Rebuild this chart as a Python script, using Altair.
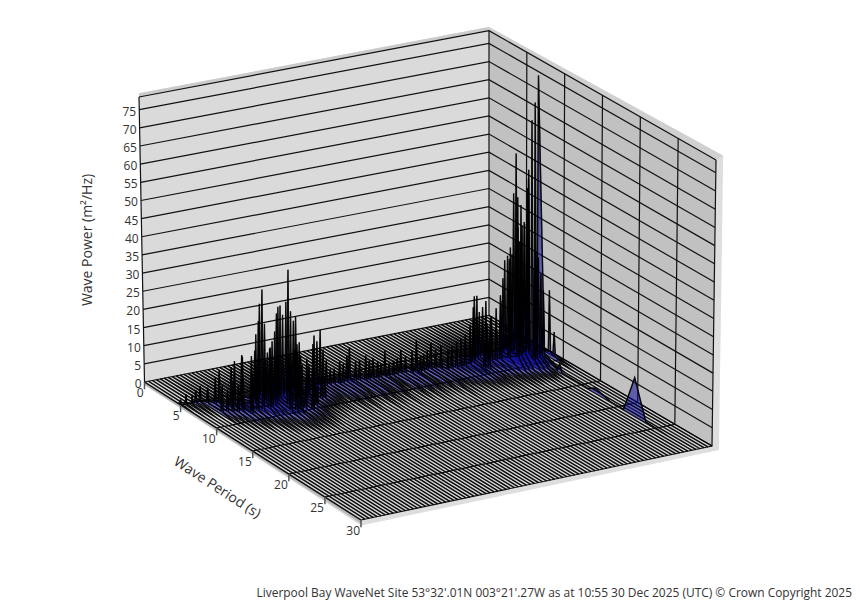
import altair as alt
import numpy as np
import pandas as pd

alt.data_transformers.disable_max_rows()

Z_TOP = 78.5
P_TOP = 30.0
Z_TICKS = list(range(0, 80, 5))
P_TICKS = [0, 5, 10, 15, 20, 25, 30]
FOOTER = "Liverpool Bay WaveNet Site 53°32'.01N 003°21'.27W as at 10:55 30 Dec 2025 (UTC) © Crown Copyright 2025"

# view of the box: (time, period, power) corners as seen by the camera
VIEW = {
    (0, 0, 0): (144.5, 382), (0, 0, 1): (139, 97),
    (1, 0, 0): (489, 315.5), (1, 0, 1): (489, 30.7),
    (0, 1, 0): (361, 520), (0, 1, 1): (358, 232),
    (1, 1, 0): (712, 446), (1, 1, 1): (716, 160),
}
N_SERIES = 88   # stripes on the floor

# spectrum per floor stripe: (period s, power m2/Hz); anything unlisted is flat
SPECTRA = {
    0: [(4.5,0),(4.9,.4),(5,1.5),(5.1,.4),(6,.2),(7,0)],
    1: [(4.6,0),(5.1,.5),(5.2,3),(5.3,.5),(6.5,.2),(8,0)],
    2: [(4.8,0),(5.4,.5),(5.5,3),(5.6,.5),(7,.2),(8.5,0)],
    3: [(4.8,.1),(5.3,.6),(5.45,4),(5.6,.6),(7,.3),(8.5,0)],
    4: [(4.9,.1),(5.35,.7),(5.5,5),(5.65,.7),(7,.3),(9,0)],
    5: [(5,.2),(5.85,.8),(6,5),(6.15,.8),(7.85,.9),(8,8),(8.15,.8),(9.5,.3),(11,0)],
    6: [(5.2,.3),(6.35,1),(6.5,8),(6.65,1),(8.05,1),(8.2,7),(8.35,1),(9.8,.3),(11.5,0)],
    7: [(5.3,.3),(6.35,1.2),(6.5,10),(6.65,1.2),(8.25,1),(8.4,9),(8.55,1),(10,.3),(12,0)],
    8: [(5.5,.3),(7.45,1.3),(7.6,12),(7.75,1.3),(8.45,1),(8.6,8),(8.75,1),(10,.4),(12,0)],
    9: [(5.8,.3),(7.35,1.4),(7.5,13.3),(7.65,1.4),(8.55,1.2),(8.7,10),(8.85,1.2),(10.5,.4),(12.5,0)],
    10: [(5.8,.3),(7.9,1.5),(8.05,15),(8.2,1.5),(9.2,1.2),(9.35,10),(9.5,1.2),(11,.4),(13,0)],
    11: [(5.8,.4),(7.25,1.5),(7.4,14.4),(7.55,1.5),(8.75,1.3),(8.9,11),(9.05,1.3),(10.5,.5),(12.5,0)],
    12: [(6,.4),(8.05,1.6),(8.2,14.9),(8.35,1.6),(8.95,1.4),(9.1,12),(9.25,1.4),(10.7,.5),(13,0)],
    13: [(6,.4),(7.95,1.7),(8.1,16),(8.25,1.7),(9.15,1.5),(9.3,13),(9.45,1.5),(11,.5),(13.5,0)],
    14: [(6,.5),(7.55,2),(7.7,19.8),(7.85,2),(9.45,2),(9.6,18.3),(9.75,2),(11,.6),(14,0)],
    15: [(6,.5),(7.35,2.2),(7.5,23),(7.65,2.2),(8.35,1.8),(8.5,14),(8.65,1.8),(9.25,2),(9.4,19.8),(9.55,2),(11,.6),(14,0)],
    16: [(5.8,.5),(6.95,2.4),(7.1,27),(7.25,2.4),(8.05,2),(8.2,15),(8.35,2),(9.05,2.2),(9.2,22),(9.35,2.2),(11.2,.6),(14,0)],
    17: [(5.6,.5),(6.75,2.6),(6.9,30.5),(7.05,2.6),(7.9,2),(8.05,16),(8.2,2),(8.75,2.4),(8.9,26.4),(9.05,2.2),(11.2,.6),(14,0)],
    18: [(5.6,.5),(6.55,2.2),(6.7,20.6),(6.85,2.2),(8.4,2.4),(8.55,27.6),(8.7,2.2),(10.25,1.6),(10.4,14),(10.55,1.4),(12,.6),(14.5,0)],
    19: [(5.5,.5),(8.15,2.4),(8.3,27.4),(8.45,2.2),(9.3,1.7),(9.45,15),(9.6,1.6),(10.45,1.6),(10.6,15),(10.75,1.4),(12,.6),(14.5,0)],
    20: [(5.5,.5),(7.95,2.3),(8.1,24.4),(8.25,2.2),(10.65,1.5),(10.8,14),(10.95,1.3),(12,.6),(14.5,0)],
    21: [(5.5,.5),(7.85,2.4),(8,27.6),(8.15,2.2),(9.1,1.7),(9.25,16),(9.4,1.6),(9.85,1.2),(10,8),(10.15,1),(12,.5),(14.5,0)],
    22: [(5.4,.5),(7.6,3),(7.75,35.9),(7.9,2.8),(8.8,1.7),(8.95,15),(9.1,1.5),(10.05,1.2),(10.2,8),(10.35,1),(12,.5),(14.5,0)],
    23: [(5.2,.5),(7.4,2),(7.55,24),(7.7,2),(8.6,1.7),(8.75,17),(8.9,1.5),(10.5,1),(10.65,9),(10.8,.9),(12.5,.4),(14.5,0)],
    24: [(5.2,.5),(7.25,2.2),(7.4,21),(7.55,2),(9.95,1),(10.1,7),(10.25,.9),(12,.4),(14,0)],
    25: [(5,.5),(7,2.2),(7.15,21.6),(7.3,2),(8.55,1.5),(8.7,12),(8.85,1.3),(9.85,1),(10,6),(10.15,.9),(12,.4),(14,0)],
    26: [(5,.4),(6.65,1.6),(6.8,13.4),(6.95,1.4),(8.3,1.3),(8.45,10),(8.6,1.2),(9.45,.9),(9.6,5),(9.75,.8),(11.5,.3),(13.5,0)],
    27: [(5,.4),(6.6,1.3),(6.75,10),(6.9,1.2),(8.4,1.1),(8.55,8),(8.7,1),(11,.3),(13,0)],
    28: [(5,.4),(7.75,1.6),(7.9,14.4),(8.05,1.4),(8.95,1),(9.1,7),(9.25,.8),(11,.3),(13,0)],
    29: [(5,.4),(7.35,1.7),(7.5,16),(7.65,1.4),(8.85,.9),(9,6),(9.15,.7),(11,.3),(12.5,0)],
    30: [(5,.4),(7.2,1.6),(7.35,14),(7.5,1.4),(8.7,.9),(10.5,.3),(12.5,0)],
    31: [(5,.4),(7.1,1.7),(7.25,16.8),(7.4,1.4),(8.6,.8),(10.5,.3),(12.5,0)],
    32: [(5,.3),(6.95,1.3),(7.1,11),(7.25,1.1),(8.5,.7),(10.5,.2),(12,0)],
    33: [(5,.3),(6.85,1.1),(7,7.7),(7.15,.9),(8.5,.6),(10,.2),(11.5,0)],
    34: [(5.2,.3),(6.85,1),(7,5),(7.15,.8),(8.5,.7),(11,.2),(13,0)],
    35: [(5.2,.3),(6.85,1),(7,5),(7.15,.8),(8.8,.9),(11,.3),(13,0)],
    36: [(5.2,.2),(7.05,1),(7.2,7),(7.35,1),(8.7,.8),(10.7,.2),(12.2,0)],
    37: [(5.2,.2),(7,.9),(7.15,6),(7.3,.9),(8.7,1),(11,.4),(13,0)],
    38: [(5.2,.2),(6.95,1.1),(7.1,8.2),(7.25,1.1),(8.6,.8),(10.6,.2),(12.1,0)],
    39: [(5,.2),(6.75,1.3),(6.9,9.9),(7.05,1.3),(8.4,1),(10.4,.3),(11.9,0)],
    40: [(5.2,.2),(7.05,.9),(7.2,6.1),(7.35,.9),(8.7,.6),(10.7,.2),(12.2,0)],
    41: [(5.2,.2),(7.05,.9),(7.2,6.1),(7.35,.9),(9,1),(11.5,.3),(13.5,0)],
    42: [(5.4,.2),(7.35,1),(7.5,7.7),(7.65,1),(9,.8),(11,.2),(12.5,0)],
    43: [(5.4,.2),(7.3,.9),(7.45,6),(7.6,.9),(9.2,1),(11.2,.3),(13,0)],
    44: [(5.4,.2),(7.25,.9),(7.4,6.5),(7.55,.9),(8.9,.7),(10.9,.2),(12.4,0)],
    45: [(5.4,.2),(7.35,.8),(7.5,5.5),(7.65,.8),(9,.6),(11,.2),(12.5,0)],
    46: [(5.4,.2),(7.25,.7),(7.4,4.6),(7.55,.7),(9.2,.9),(11.5,.3),(13.5,0)],
    47: [(5.4,.2),(7.25,1),(7.4,7.7),(7.55,1),(8.9,.8),(10.9,.2),(12.4,0)],
    48: [(5.4,.2),(7.25,.6),(7.4,4),(7.55,.6),(8.9,.5),(10.9,.1),(12.4,0)],
    49: [(5.5,.2),(7.35,.7),(7.5,4.8),(7.65,.7),(9,.5),(11,.2),(12.5,0)],
    50: [(5.5,.2),(7.3,.8),(7.45,5),(7.6,.8),(9.1,1),(11.3,.3),(13,0)],
    51: [(5.5,.2),(7.25,1),(7.4,7.2),(7.55,1),(8.9,.8),(10.9,.2),(12.4,0)],
    52: [(5.5,.2),(7.35,.8),(7.5,5.4),(7.65,.8),(9.3,1),(11.5,.3),(13.5,0)],
    53: [(5.6,.2),(7.7,1),(7.85,7),(8,1),(9.3,.8),(11.3,.2),(12.8,0)],
    54: [(5.6,.2),(7.75,1.3),(7.9,9.9),(8.05,1.3),(9.4,1),(11.4,.3),(12.9,0)],
    55: [(5.6,.2),(7.75,.8),(7.9,5.2),(8.05,.8),(9.4,.6),(11.4,.2),(12.9,0)],
    56: [(5.6,.2),(7.65,.8),(7.8,5.6),(7.95,.8),(9.3,.6),(11.3,.2),(12.8,0)],
    57: [(5.6,.2),(7.6,.9),(7.75,6),(7.9,.9),(9.4,1),(11.5,.3),(13,0)],
    58: [(5.6,.2),(7.55,1.1),(7.7,8),(7.85,1.1),(9.2,.8),(11.2,.2),(12.7,0)],
    59: [(5.6,.2),(7.65,.9),(7.8,6),(7.95,.9),(9.6,1),(12,.3),(14,0)],
    60: [(5.8,.2),(7.85,1),(8,7.3),(8.15,1),(9.5,.8),(11.5,.2),(13,0)],
    61: [(6,.2),(8.25,.9),(8.4,6.2),(8.55,.9),(9.9,.7),(11.9,.2),(13.4,0)],
    62: [(6,.2),(8.25,1),(8.4,7.1),(8.55,1),(9.9,.8),(11.9,.2),(13.4,0)],
    63: [(6,.3),(8.35,1.2),(8.5,8.3),(8.65,1.2),(10,.9),(12,.2),(13.5,0)],
    64: [(6,.3),(8.4,1.2),(8.55,9),(8.7,1.2),(10,1),(12,.3),(13.5,0)],
    65: [(6,.3),(8.45,1.3),(8.6,9.9),(8.75,1.3),(10.1,1),(12.1,.3),(13.6,0)],
    66: [(6.2,.4),(8.55,1.6),(8.7,12.5),(8.85,1.6),(10.2,1.2),(12.2,.3),(13.7,0)],
    67: [(6.2,.4),(8.45,2),(8.6,16.9),(8.75,2),(10.1,1.4),(12.1,.4),(13.6,0)],
    68: [(6.2,.5),(8.05,2.2),(8.2,19.2),(8.35,2),(9.45,1.2),(9.6,8),(9.75,1.2),(12,.4),(14,0)],
    69: [(6.2,.5),(7.85,2.2),(8,18.9),(8.15,2),(9.55,1.2),(9.7,9),(9.85,1.2),(12,.4),(14,0)],
    70: [(6,.5),(7.65,1.8),(7.8,14),(7.95,1.8),(8.7,1.4),(8.85,12),(9,1.4),(11.5,.4),(14,0)],
    71: [(6,.5),(7.55,1.8),(7.7,15),(7.85,1.7),(8.75,1.7),(8.9,14),(9.05,1.6),(11.5,.4),(14,0)],
    72: [(6,.5),(7.45,2),(7.6,16.3),(7.75,1.8),(8.85,1.8),(9,16),(9.15,1.8),(11.5,.5),(14,0)],
    73: [(6,.5),(7.55,1.6),(7.7,11.7),(7.85,1.6),(8.95,2),(9.1,18),(9.25,2),(11.5,.5),(14.5,0)],
    74: [(6.5,.5),(8.35,2),(8.5,18.6),(8.65,2),(9.55,2.8),(9.7,30),(9.85,2.8),(11.5,.6),(14,0)],
    75: [(6.5,.5),(8.15,2.5),(8.3,22.8),(8.45,2.5),(9,2.5),(9.15,26),(9.3,2.5),(10.15,3.6),(10.3,47.5),(10.45,3.6),(11.5,.7),(14,0)],
    76: [(6.5,.5),(7.85,3),(8,27.2),(8.15,3),(8.85,3),(9,30),(9.15,3),(10.05,3.6),(10.2,45),(10.35,3.6),(11.5,.7),(14,0)],
    77: [(6.5,.5),(7.7,3),(7.85,28),(8,3),(8.8,3.2),(8.95,31),(9.1,3.2),(9.95,4),(10.1,40),(10.25,4),(11.5,.7),(14,0)],
    78: [(6.5,.5),(7.55,3),(7.7,29.9),(7.85,3),(8.75,3.2),(8.9,33),(9.05,3.2),(9.85,4),(10,49),(10.15,4),(10.75,3),(10.9,28),(11.05,2.5),(12,.6),(14,0)],
    79: [(6.2,.5),(7.45,4),(7.6,44.5),(7.75,4),(8.45,3.5),(8.6,32),(8.75,3.5),(9.45,4),(9.6,50.9),(9.75,4),(10.45,3.2),(10.6,32),(10.75,3),(12,.7),(14,0)],
    80: [(6,.5),(7.25,4.5),(7.4,55),(7.55,4.5),(8.05,4),(8.2,36),(8.35,4),(8.95,4.5),(9.1,52.5),(9.25,4),(10.25,3.2),(10.4,30),(10.55,3),(12,.7),(13.5,0)],
    81: [(6,.5),(6.95,3.5),(7.1,34),(7.25,3.5),(7.85,3.5),(8,36),(8.15,3.5),(8.85,5),(9,65.8),(9.15,4.5),(10.05,3),(10.2,25),(10.35,2.8),(11.5,.7),(13.5,0)],
    82: [(6.5,.5),(7.65,3),(7.8,32),(7.95,3),(8.75,5),(8.9,70.4),(9.05,4.5),(9.85,2.4),(10,20),(10.15,2.2),(11.9,.4),(12.2,2.5),(12.5,.3),(16,.2),(17,1.5),(19,.2),(20.8,.2),(22.3,10.7),(23.8,.4),(27,0)],
    83: [(7,.5),(8.6,4),(8.8,77.5),(9.6,2),(11,.5),(12.5,0)],
    85: [(7,.5),(8.05,1),(8.2,7),(8.35,1),(9.05,1.5),(9.2,18.4),(9.35,1.5),(11,.4),(12.5,0)],
    86: [(7.5,.3),(9.15,1),(9.3,6.8),(9.45,.8),(11,.2),(12.5,0)],
}

def project(t, p, z):
    u, v, w = t, p / P_TOP, z / Z_TOP
    xy = np.zeros(2)
    for a in (0, 1):
        for b in (0, 1):
            for c in (0, 1):
                k = (u if a else 1 - u) * (v if b else 1 - v) * (w if c else 1 - w)
                xy += k * np.array(VIEW[(a, b, c)], dtype=float)
    return xy

def patch(upper, lower):
    """Table for an area between two polylines given as (t, p, z)."""
    up = np.array([project(*q) for q in upper])
    lo = np.array([project(*q) for q in lower])
    xs = np.unique(np.concatenate([up[:, 0], lo[:, 0]]))
    return pd.DataFrame({"x": xs, "y": np.interp(xs, up[:, 0], up[:, 1]), "y2": np.interp(xs, lo[:, 0], lo[:, 1])})

X = alt.X("x:Q", scale=alt.Scale(domain=[8, 852], nice=False, zero=False), axis=None)
Y = alt.Y("y:Q", scale=alt.Scale(domain=[600, 8], nice=False, zero=False), axis=None)
Y2 = alt.Y2("y2:Q")

def shade(df, colour):
    return alt.Chart(df).mark_area(color=colour, opacity=1, orient="vertical").encode(x=X, y=Y, y2=Y2)

Z = Z_TOP
layers = [
    # box thickness
    shade(patch([(0,0,Z+1),(1,0,Z+1),(1.02,30,Z+.8)],
                [(0,0,Z+1),(0,0,-.8),(0,30,-1.5),(1.02,30,-1.5),(1.02,30,Z+.8)]), "#dedede"),
    shade(patch([(0,0,Z+1),(1,0,Z+1)], [(0,0,Z),(1,0,Z)]), "#cbcbcb"),
    shade(patch([(1,0,Z+1),(1.02,30,Z+.8)], [(1,0,Z),(1,30,Z),(1.02,30,Z+.8)]), "#d0d0d0"),
    shade(patch([(0,0,0),(0,30,0)], [(0,0,-.8),(0,30,-1.0)]), "#b8b8b8"),
    # walls and floor
    shade(patch([(0,0,Z),(1,0,Z)], [(0,0,Z),(0,0,0),(1,0,0)]), "#dadada"),
    shade(patch([(1,0,Z),(1,30,Z)], [(1,0,0),(1,30,0),(1,30,Z)]), "#c1c1c1"),
    shade(patch([(0,0,0),(1,0,0),(1,30,0)], [(0,0,0),(0,30,0),(1,30,0)]), "#d6d6d6"),
]

grid = []
def seg(name, pts):
    for n, q in enumerate(pts):
        x, y = project(*q)
        grid.append({"g": name, "n": n, "x": x, "y": y})

for z in Z_TICKS + [Z_TOP]:
    seg(f"z{z}", [(0,0,z),(1,0,z),(1,30,z)])
for p in P_TICKS[1:]:
    seg(f"p{p}", [(0,p,0),(1,p,0),(1,p,Z_TOP)])
seg("corner", [(1,0,0),(1,0,Z_TOP)])
seg("left", [(0,0,0),(0,0,Z_TOP)])
layers.append(alt.Chart(pd.DataFrame(grid)).mark_line(color="#111111", strokeWidth=1.2).encode(
    x=X, y=Y, detail="g:N", order="n:Q"))

rows = []
for j in range(N_SERIES - 1, -1, -1):
    t = j / (N_SERIES - 1)
    nodes = [(0, 0)] + SPECTRA.get(j, []) + [(30, 0)]
    for n, (p, z) in enumerate(nodes):
        tip = project(t, p, z)
        base = project(t, p, 0)
        rows.append({"s": f"s{j:03d}", "n": n, "x": base[0], "y": tip[1], "y2": base[1]})
spectra = pd.DataFrame(rows)
layers.append(alt.Chart(spectra).mark_area(
    orient="vertical", fill="#0b0b96", fillOpacity=0.55, stroke="#000000", strokeWidth=1.4, strokeOpacity=0.88
).encode(x=X, y=Y, y2=Y2, detail="s:N"))
active = spectra[spectra.groupby("s")["n"].transform("max") > 1]
layers.append(alt.Chart(active).mark_line(color="#000000", strokeWidth=1.1, opacity=0.5).encode(
    x=X, y=Y, detail="s:N", order="n:Q"))

# period ticks and labels
ticks = []
for p in P_TICKS:
    a = project(0, p, 0)
    b = project(0, p, -2)
    ticks += [{"g": p, "n": 0, "x": a[0], "y": a[1]}, {"g": p, "n": 1, "x": a[0], "y": b[1]}]
layers.append(alt.Chart(pd.DataFrame(ticks)).mark_line(color="#555555", strokeWidth=1.5).encode(
    x=X, y=Y, detail="g:N", order="n:Q"))

font = "Open Sans"
ink = "#333333"
p_labels = pd.DataFrame([{"x": project(0, p, 0)[0], "y": project(0, p, 0)[1], "t": str(p)} for p in P_TICKS])
z_labels = pd.DataFrame([{"x": project(0, 0, z)[0], "y": project(0, 0, z)[1], "t": str(z)} for z in Z_TICKS])
layers.append(alt.Chart(p_labels).mark_text(font=font, fontSize=12, color=ink, align="right", dx=-1, dy=11).encode(x=X, y=Y, text="t:N"))
layers.append(alt.Chart(z_labels).mark_text(font=font, fontSize=12, color=ink, align="right", dx=-3, dy=2).encode(x=X, y=Y, text="t:N"))

def label(text, x, y, **kw):
    return alt.Chart(pd.DataFrame({"x": [x], "y": [y], "t": [text]})).mark_text(font=font, color=ink, **kw).encode(x=X, y=Y, text="t:N")

layers.append(label("Wave Power (m²/Hz)", 88, 240, fontSize=14, angle=270))
layers.append(label("Wave Period (s)", 217, 488, fontSize=14, angle=33))
layers.append(label(FOOTER, 852, 593, fontSize=11.95, align="right"))

chart = alt.layer(*layers).properties(width=844, height=592, padding=0, autosize=alt.AutoSizeParams(type="none")).configure_view(stroke=None)
chart.save("out.html", embed_options={"renderer": "svg", "actions": False})
